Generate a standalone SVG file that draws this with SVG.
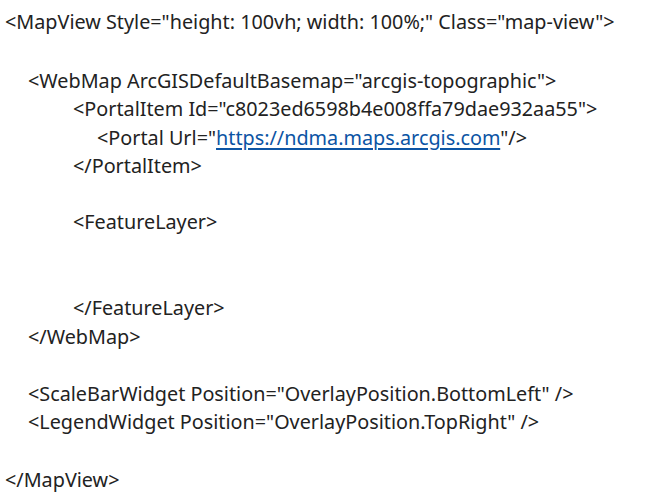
<svg xmlns="http://www.w3.org/2000/svg" width="651" height="503" viewBox="0 0 651 503">
<style>
text{font-family:"Noto Sans","Open Sans",sans-serif;font-size:19.8px;fill:#222;dominant-baseline:central;white-space:pre}
.l{fill:#0b54a4;text-decoration:underline}
</style>
<rect width="651" height="503" fill="#fff"/>
<text x="5" y="21">&lt;MapView Style="height: 100vh; width: 100%;" Class="map-view"&gt;</text>
<text x="28" y="80">&lt;WebMap ArcGISDefaultBasemap="arcgis-topographic"&gt;</text>
<text x="73" y="108">&lt;PortalItem Id="c8023ed6598b4e008ffa79dae932aa55"&gt;</text>
<text x="97" y="137">&lt;Portal Url="<tspan class="l">https://ndma.maps.arcgis.com</tspan>"/&gt;</text>
<text x="73" y="165">&lt;/PortalItem&gt;</text>
<text x="73" y="221">&lt;FeatureLayer&gt;</text>
<text x="73" y="307">&lt;/FeatureLayer&gt;</text>
<text x="28" y="336">&lt;/WebMap&gt;</text>
<text x="28" y="393">&lt;ScaleBarWidget Position="OverlayPosition.BottomLeft" /&gt;</text>
<text x="28" y="421">&lt;LegendWidget Position="OverlayPosition.TopRight" /&gt;</text>
<text x="5" y="479">&lt;/MapView&gt;</text>
</svg>
